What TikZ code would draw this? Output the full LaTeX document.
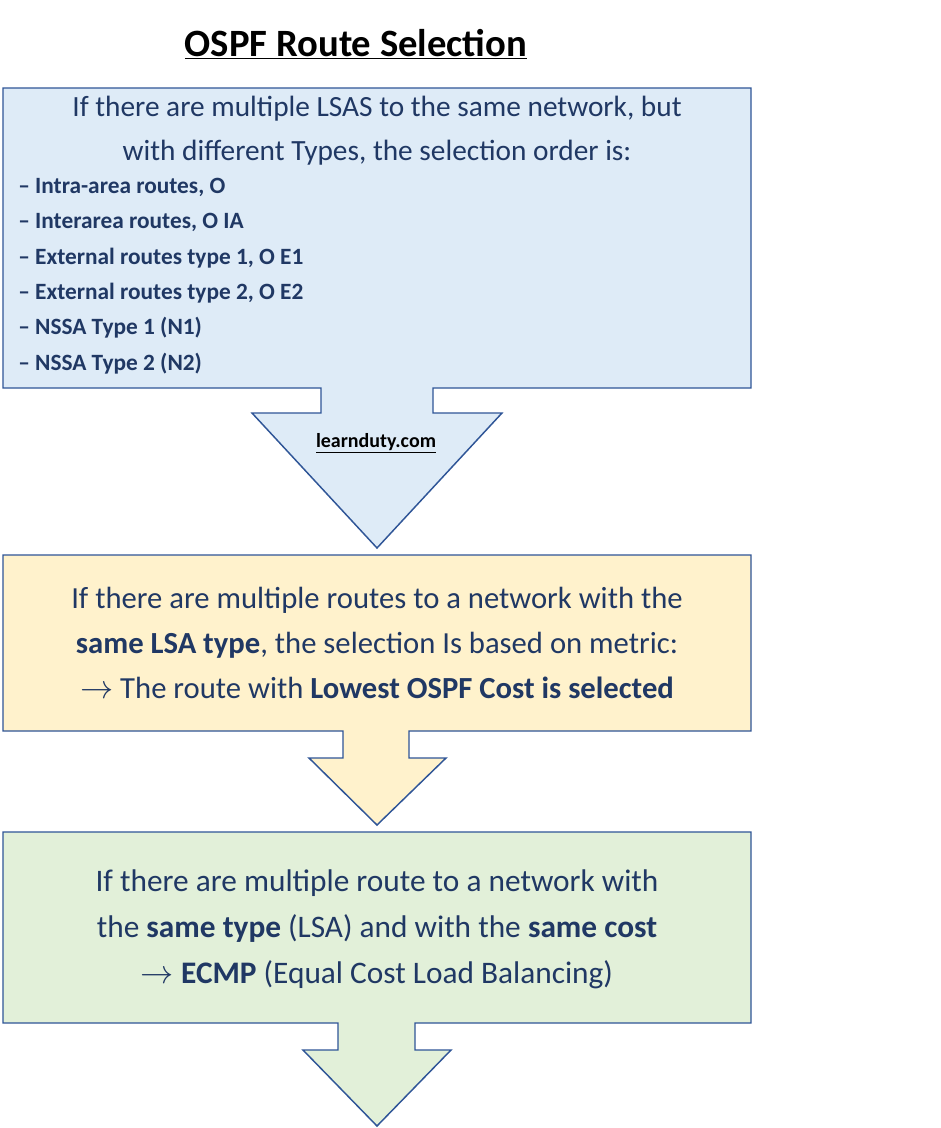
\documentclass[tikz,border=0pt]{standalone}
\usepackage{fontspec}
\setmainfont{Carlito}
\usepackage{xcolor}
\definecolor{bord}{HTML}{2F5597}
\definecolor{txt}{HTML}{203864}
\definecolor{bluef}{HTML}{DEEBF7}
\definecolor{yelf}{HTML}{FFF2CC}
\definecolor{grnf}{HTML}{E2F0D9}
\begin{document}
\begin{tikzpicture}[x=0.75pt,y=-0.75pt,
  shp/.style={draw=bord,line width=1.1pt,line join=miter},
  txtn/.style={text=txt,align=center,inner sep=0pt}]
\useasboundingbox (0,0) rectangle (941,1128);
\fill[white] (0,0) rectangle (941,1128);
\draw[shp,fill=bluef] (3,88) -- (751,88) -- (751,388) -- (433,388) -- (433,413) -- (502,413) -- (377,548) -- (252,413) -- (321,413) -- (321,388) -- (3,388) -- cycle;
\draw[shp,fill=yelf] (3,555) -- (751,555) -- (751,731) -- (409,731) -- (409,758) -- (446,758) -- (377,825) -- (309,758) -- (343,758) -- (343,731) -- (3,731) -- cycle;
\draw[shp,fill=grnf] (3,832) -- (751,832) -- (751,1023) -- (415,1023) -- (415,1050) -- (451,1050) -- (377,1126) -- (303,1050) -- (338,1050) -- (338,1023) -- (3,1023) -- cycle;
\node[inner sep=0pt,font=\fontsize{29}{34}\selectfont\bfseries] (title) at (356,44) {\underline{OSPF Route Selection}};
\node[txtn,font=\fontsize{22}{33}\selectfont] (t1) at (377,131) {If there are multiple LSAS to the same network, but\\with different Types, the selection order is:};
\node[txtn,anchor=north west,align=left,font=\fontsize{17.5}{26.5}\selectfont\bfseries] (l1) at (18,178) {– Intra-area routes, O\\– Interarea routes, O IA\\– External routes type 1, O E1\\– External routes type 2, O E2\\– NSSA Type 1 (N1)\\– NSSA Type 2 (N2)};
\node[inner sep=0pt,font=\fontsize{15}{18}\selectfont\bfseries] (lr) at (376,443) {\underline{learnduty.com}};
\node[txtn,font=\fontsize{23}{34}\selectfont] (t2) at (377,643) {If there are multiple routes to a network with the\\\textbf{same LSA type}, the selection Is based on metric:\\$\rightarrow$ The route with \textbf{Lowest OSPF Cost is selected}};
\node[txtn,font=\fontsize{23.5}{34.5}\selectfont] (t3) at (377,929) {If there are multiple route to a network with\\the \textbf{same type} (LSA) and with the \textbf{same cost}\\$\rightarrow$ \textbf{ECMP} (Equal Cost Load Balancing)};
\end{tikzpicture}
\end{document}
